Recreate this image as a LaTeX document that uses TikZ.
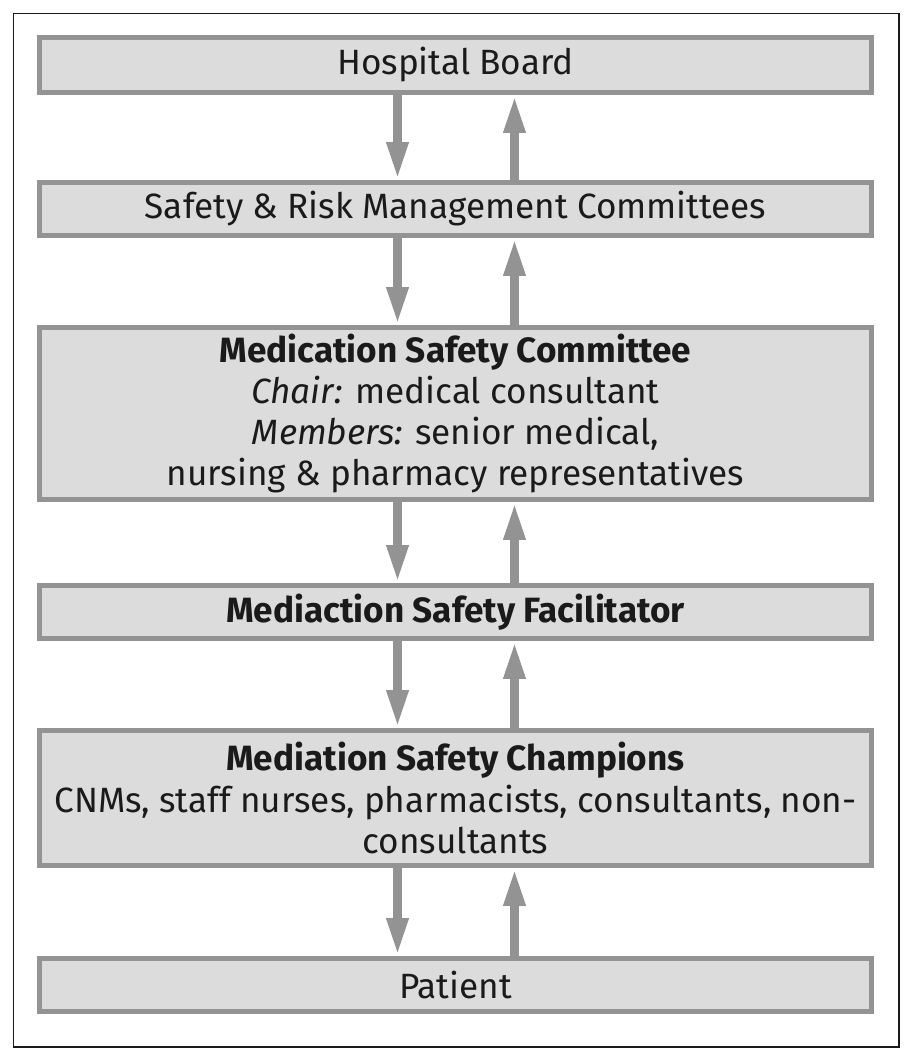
\documentclass[tikz,border=0pt]{standalone}
\usepackage{fontspec}
\setmainfont{Fira Sans}
\usepackage{tikz}
\usetikzlibrary{arrows.meta}
\definecolor{boxline}{RGB}{147,147,147}
\definecolor{boxfill}{RGB}{220,220,220}
\definecolor{ink}{RGB}{26,26,26}
\tikzset{box/.style = {shape = rectangle, draw = boxline, fill = boxfill, line width = 0.1cm, minimum width = 16.64cm, minimum height = 1.06cm, inner sep = 0pt, align = center, text = ink, font = \fontsize{20}{23.2}\selectfont}}
\tikzset{flow/.style = {draw = boxline, line width = 0.18cm, -{Triangle[length = 0.76cm, width = 0.4cm]}}}

\begin{document}
\begin{tikzpicture}[x = 0.02cm, y = -0.02cm]
			\useasboundingbox (0, 0) rectangle (921, 1058);
			\draw[line width = 0.04cm, ink] (13.5, 13.5) rectangle (899, 1046.5);

			\node[box, minimum height = 1.1cm] (board) at (455.5, 65) {Hospital Board};
			\node[box] (risk) at (455.5, 209) {Safety \& Risk Management Committees};
			\node[box, minimum height = 3.44cm] (msc) at (455.5, 413.5) {\textbf{Medication Safety Committee}\\\textit{Chair:} medical consultant\\\textit{Members:} senior medical,\\nursing \& pharmacy representatives};
			\node[box] (facil) at (455.5, 612) {\textbf{Mediaction Safety Facilitator}};
			\node[box, minimum height = 2.7cm, font = \fontsize{20}{23.8}\selectfont] (champ) at (455.5, 798) {\textbf{Mediation Safety Champions}\\CNMs, staff nurses, pharmacists, consultants, non-\\consultants};
			\node[box] (patient) at (455.5, 985) {Patient};

			\draw[flow] ([xshift = -1.16cm] board.south) -- ([xshift = -1.16cm] risk.north);
			\draw[flow] ([xshift = 1.18cm] risk.north) -- ([xshift = 1.18cm] board.south);
			\draw[flow] ([xshift = -1.16cm] risk.south) -- ([xshift = -1.16cm] msc.north);
			\draw[flow] ([xshift = 1.18cm] msc.north) -- ([xshift = 1.18cm] risk.south);
			\draw[flow] ([xshift = -1.16cm] msc.south) -- ([xshift = -1.16cm] facil.north);
			\draw[flow] ([xshift = 1.18cm] facil.north) -- ([xshift = 1.18cm] msc.south);
			\draw[flow] ([xshift = -1.16cm] facil.south) -- ([xshift = -1.16cm] champ.north);
			\draw[flow] ([xshift = 1.18cm] champ.north) -- ([xshift = 1.18cm] facil.south);
			\draw[flow] ([xshift = -1.16cm] champ.south) -- ([xshift = -1.16cm] patient.north);
			\draw[flow] ([xshift = 1.18cm] patient.north) -- ([xshift = 1.18cm] champ.south);
		\end{tikzpicture}
\end{document}
